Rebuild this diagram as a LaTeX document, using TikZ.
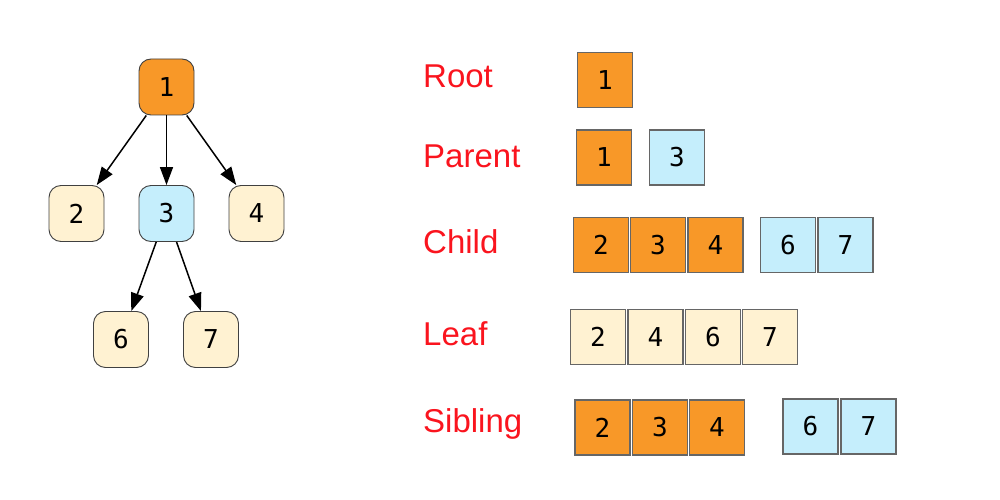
\documentclass[tikz,border=0pt]{standalone}
\usepackage{fontspec}
\setmainfont{Liberation Sans}
\newfontfamily\digitfont{DejaVu Sans Mono}
\usetikzlibrary{arrows.meta}
\definecolor{orng}{RGB}{248,152,40}
\definecolor{lblue}{RGB}{197,238,252}
\definecolor{cream}{RGB}{255,242,210}
\definecolor{lred}{RGB}{250,20,30}
\newcommand{\digs}{\digitfont\fontsize{26}{30}\selectfont}
\begin{document}
\begin{tikzpicture}[x=1pt,y=-1pt,
  treenode/.style={draw=black!75,line width=0.9pt,rounded corners=12pt,minimum width=55pt,minimum height=56pt,inner sep=0pt,font=\digs},
  cell/.style={draw=black!60,line width=1.4pt,minimum width=55pt,minimum height=55pt,inner sep=0pt,font=\digs},
  lbl/.style={anchor=base west,inner sep=0pt,text=lred,font=\fontsize{33}{38}\selectfont},
  arrowline/.style={-{Triangle[length=18pt,width=13pt]},line width=1.5pt}]
\useasboundingbox (0,0) rectangle (1000,500);
% tree
\node[treenode,fill=orng]  (t1) at (166.5,87) {1};
\node[treenode,fill=cream] (t2) at (76.5,213.5) {2};
\node[treenode,fill=lblue] (t3) at (166.5,213.5) {3};
\node[treenode,fill=cream] (t4) at (256.5,213.5) {4};
\node[treenode,fill=cream] (t6) at (121,339.5) {6};
\node[treenode,fill=cream] (t7) at (211,339.5) {7};
\draw[arrowline] (t1) -- (t2);
\draw[arrowline] (t1) -- (t3);
\draw[arrowline] (t1) -- (t4);
\draw[arrowline] (t3) -- (t6);
\draw[arrowline] (t3) -- (t7);
% labels
\node[lbl] (lroot) at (423,88) {Root};
\node[lbl] (lparent) at (423,167) {Parent};
\node[lbl] (lchild) at (423,253) {Child};
\node[lbl] (lleaf) at (423,345) {Leaf};
\node[lbl] (lsib) at (423,432) {Sibling};
% root row
\node[cell,fill=orng] (r1) at (605,80) {1};
% parent row
\node[cell,fill=orng]  (p1) at (604,157.5) {1};
\node[cell,fill=lblue] (p3) at (677,157.5) {3};
% child row
\node[cell,fill=orng]  (c2) at (601,245) {2};
\node[cell,fill=orng]  (c3) at (658,245) {3};
\node[cell,fill=orng]  (c4) at (715.5,245) {4};
\node[cell,fill=lblue] (c6) at (788,245) {6};
\node[cell,fill=lblue] (c7) at (845.5,245) {7};
% leaf row
\node[cell,fill=cream] (f2) at (598,337) {2};
\node[cell,fill=cream] (f4) at (655.5,337) {4};
\node[cell,fill=cream] (f6) at (713,337) {6};
\node[cell,fill=cream] (f7) at (770,337) {7};
% sibling row
\node[cell,fill=orng]  (s2) at (602.5,427.5) {2};
\node[cell,fill=orng]  (s3) at (660,427.5) {3};
\node[cell,fill=orng]  (s4) at (717,427.5) {4};
\node[cell,fill=lblue] (s6) at (810.5,426.5) {6};
\node[cell,fill=lblue] (s7) at (868.5,426.5) {7};
\end{tikzpicture}
\end{document}
